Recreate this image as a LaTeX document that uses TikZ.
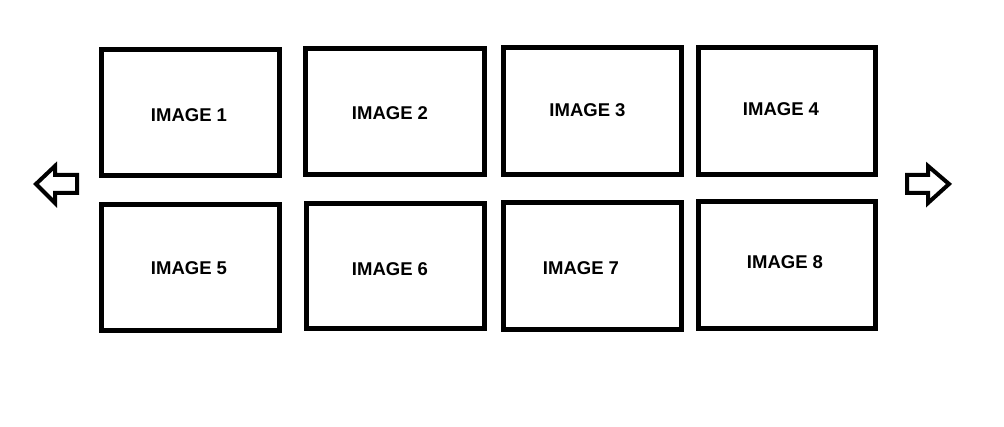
\documentclass[tikz,border=0pt]{standalone}
\usepackage{fontspec}
\setmainfont{Liberation Sans}
\begin{document}
\begin{tikzpicture}[x=1pt,y=-1pt,
  imgbox/.style={draw=black,line width=5pt,inner sep=0pt,outer sep=0pt,minimum width=178pt,minimum height=126pt},
  imglabel/.style={inner sep=0pt,font=\fontsize{18.5}{22}\selectfont\bfseries},
  navarrow/.style={draw=black,line width=4pt,line join=miter}]
\useasboundingbox[fill=white] (0,0) rectangle (1004,427);
% boxes
\node[imgbox,minimum width=178pt,minimum height=126pt] (b1) at (190.5,112.5) {};
\node[imgbox,minimum width=179pt,minimum height=126pt] (b2) at (395,112) {};
\node[imgbox,minimum width=178pt,minimum height=127pt] (b3) at (592.5,111) {};
\node[imgbox,minimum width=177pt,minimum height=127pt] (b4) at (787,111) {};
\node[imgbox,minimum width=178pt,minimum height=126pt] (b5) at (190.5,267.5) {};
\node[imgbox,minimum width=178pt,minimum height=125pt] (b6) at (395,266.5) {};
\node[imgbox,minimum width=178pt,minimum height=127pt] (b7) at (592.5,266) {};
\node[imgbox,minimum width=177pt,minimum height=127pt] (b8) at (787,265.5) {};
% labels
\node[imglabel] (t1) at (189,115) {IMAGE 1};
\node[imglabel] (t2) at (390,113.3) {IMAGE 2};
\node[imglabel] (t3) at (587.5,110.5) {IMAGE 3};
\node[imglabel] (t4) at (781,108.8) {IMAGE 4};
\node[imglabel] (t5) at (189,268.3) {IMAGE 5};
\node[imglabel] (t6) at (390,269.3) {IMAGE 6};
\node[imglabel] (t7) at (581,267.8) {IMAGE 7};
\node[imglabel] (t8) at (785,261.7) {IMAGE 8};
% left arrow
\draw[navarrow] (36,184) -- (55,166) -- (55,175) -- (77,175) -- (77,193) -- (55,193) -- (55,203) -- cycle;
% right arrow
\draw[navarrow] (949,184) -- (928,166) -- (928,175) -- (907,175) -- (907,193) -- (928,193) -- (928,203) -- cycle;
\end{tikzpicture}
\end{document}
